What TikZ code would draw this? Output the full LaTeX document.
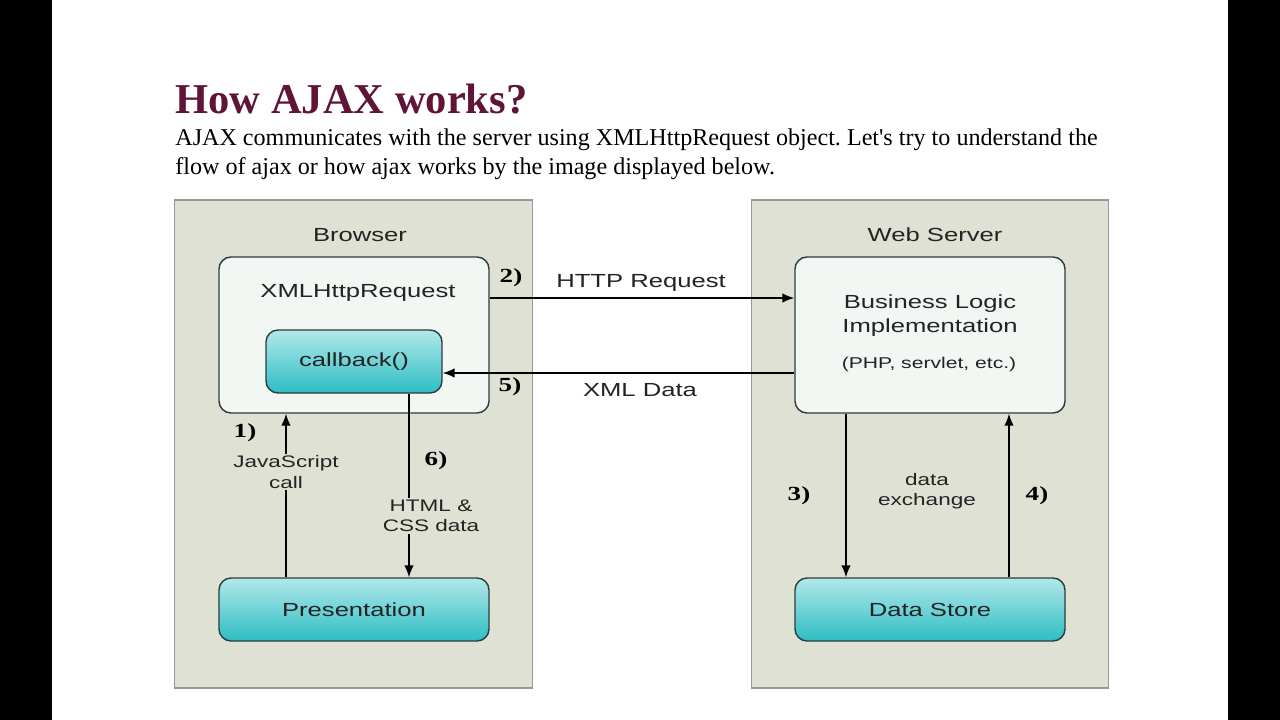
\documentclass[tikz,border=0pt]{standalone}
\usepackage{fontspec}
\setmainfont{Liberation Serif}
\newfontfamily\diagfont[FakeStretch=1.35]{Liberation Sans}
\newfontfamily\numfont[FakeStretch=1.35]{Liberation Serif}
\usetikzlibrary{arrows.meta,calc}
\frenchspacing

\definecolor{panelgray}{RGB}{223,225,213}
\definecolor{panelline}{RGB}{150,152,148}
\definecolor{boxline}{RGB}{45,60,60}
\definecolor{tealtop}{RGB}{178,232,234}
\definecolor{tealbot}{RGB}{45,190,195}
\definecolor{paleface}{RGB}{243,247,243}
\definecolor{titlered}{RGB}{95,20,56}
\definecolor{inkgray}{RGB}{35,35,35}

\tikzset{
  panel/.style={draw=panelline, fill=panelgray, line width=0.6pt, minimum width=71.5mm, minimum height=97.6mm, inner sep=0pt},
  whitebox/.style={draw=boxline, fill=paleface, rounded corners=2.4mm, line width=0.8pt, minimum width=54mm, minimum height=31.2mm, inner sep=0pt},
  tealbox/.style={draw=boxline, top color=tealtop, bottom color=tealbot, rounded corners=2.4mm, line width=0.8pt, minimum height=12.6mm, inner sep=0pt, text=inkgray, font=\diagfont\fontsize{10.8}{13}\selectfont},
  flow/.style={-{Latex[length=2.4mm,width=1.9mm]}, line width=0.85pt},
  steplabel/.style={font=\numfont\bfseries\fontsize{11.4}{13}\selectfont},
  bigtext/.style={text=inkgray, font=\diagfont\fontsize{10.8}{13.7}\selectfont},
  smalltext/.style={text=inkgray, font=\diagfont\fontsize{9.5}{11.6}\selectfont, fill=panelgray, inner sep=1pt, align=center},
}

\begin{document}
\begin{tikzpicture}[x=0.2mm, y=-0.2mm]
  \fill[black] (0,0) rectangle (1280,720);
  \fill[white] (52,0) rectangle (1228,720);

  \node[anchor=base west, inner sep=0pt, text=titlered, font=\bfseries\fontsize{24.2}{28}\selectfont] (title) at (175,114) {How AJAX works?};
  \node[anchor=base west, inner sep=0pt, font=\fontsize{13.72}{16}\selectfont] (intro1) at (175,146) {AJAX communicates with the server using XMLHttpRequest object. Let\textquotesingle s try to understand the};
  \node[anchor=base west, inner sep=0pt, font=\fontsize{13.72}{16}\selectfont] (intro2) at (175,175) {flow of ajax or how ajax works by the image displayed below.};

  \node[panel] (browser) at (353.5,444) {};
  \node[panel] (server) at (930,444) {};
  \node[bigtext] (browsertitle) at (360,235) {Browser};
  \node[bigtext] (servertitle) at (935,235) {Web Server};

  \node[whitebox] (xhr) at (354,335) {};
  \node[bigtext] (xhrtitle) at (358,293) {XMLHttpRequest};
  \node[tealbox, minimum width=35.2mm] (callback) at (354,361.5) {callback()};
  \node[tealbox, minimum width=54mm] (pres) at (354,609.5) {Presentation};
  \node[whitebox] (logic) at (930,335) {};
  \node[bigtext, align=center] (logictitle) at (930,316) {Business Logic\\Implementation};
  \node[text=inkgray, font=\diagfont\fontsize{8.9}{11}\selectfont] (logicnote) at (929,364) {(PHP, servlet, etc.)};
  \node[tealbox, minimum width=54mm] (store) at (930,609.5) {Data Store};

  \coordinate (jsline) at (286,0);
  \coordinate (htmlline) at (409,0);
  \coordinate (reqline) at (0,298);
  \coordinate (xmlline) at (0,373);
  \coordinate (downline) at (846,0);
  \coordinate (upline) at (1009,0);

  \draw[flow] (pres.north -| jsline) -- (xhr.south -| jsline);
  \draw[flow] (callback.south -| htmlline) -- (pres.north -| htmlline);
  \draw[flow] (xhr.east |- reqline) -- (logic.west |- reqline);
  \draw[flow] (logic.west |- xmlline) -- (callback.east |- xmlline);
  \draw[flow] (logic.south -| downline) -- (store.north -| downline);
  \draw[flow] (store.north -| upline) -- (logic.south -| upline);

  \node[smalltext] (jslabel) at (286,472) {JavaScript\\call};
  \node[smalltext] (htmllabel) at (431,516) {HTML \&\\CSS data};
  \node[text=inkgray, font=\diagfont\fontsize{9.5}{11.6}\selectfont, align=center] (exchlabel) at (927,491) {data\\exchange};
  \node[bigtext] (reqlabel) at (641,283) {HTTP Request};
  \node[bigtext] (xmllabel) at (640,390) {XML Data};

  \node[steplabel] (s1) at (245,433) {1)};
  \node[steplabel] (s2) at (511,278) {2)};
  \node[steplabel] (s3) at (799,496) {3)};
  \node[steplabel] (s4) at (1037,496) {4)};
  \node[steplabel] (s5) at (510,387) {5)};
  \node[steplabel] (s6) at (436,461) {6)};
\end{tikzpicture}
\end{document}
